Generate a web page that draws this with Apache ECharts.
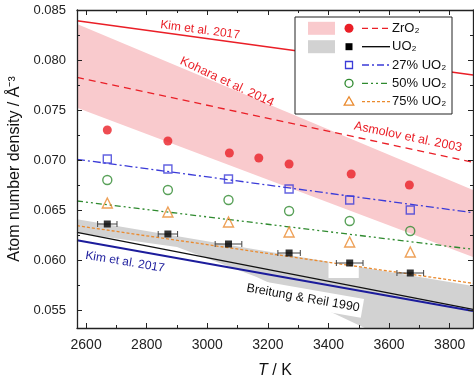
<!DOCTYPE html>
<html>
<head>
<meta charset="utf-8">
<script src="https://cdn.jsdelivr.net/npm/echarts@6/dist/echarts.min.js"></script>
<style>
  html, body { margin: 0; padding: 0; background: #fff; }
  #chart { width: 474px; height: 381px; }
</style>
</head>
<body>
<div id="chart"></div>
<script>
// measured points
const zrTemps = [2670, 2870, 3073, 3170, 3270, 3475, 3667]
const zrDensity = [0.0730, 0.0719, 0.0707, 0.0702, 0.0696, 0.0686, 0.0675]

const mixTemps = [2670, 2870, 3070, 3270, 3470, 3670]
const uo2Density = [0.0636, 0.0626, 0.0616, 0.0607, 0.0597, 0.0587]
const uo2TempErr = [32, 32, 44, 37, 44, 44]
const u27Density = [0.0701, 0.0691, 0.0681, 0.0671, 0.0660, 0.0650]
const u50Density = [0.0680, 0.0670, 0.0660, 0.0649, 0.0639, 0.0629]
const u75Density = [0.0657, 0.0648, 0.0638, 0.0628, 0.0618, 0.0608]

// fit / literature lines (values at both ends of the T range)
const fitTemps = [2570, 3877]
const kimZr = [0.08393, 0.0785]
const asmolovZr = [0.07827, 0.06977]
const uo2Fit = [0.06277, 0.05507]
const kimUo2 = [0.06197, 0.0549]
const u27Fit = [0.07007, 0.06473]
const u50Fit = [0.0659, 0.06107]
const u75Fit = [0.06343, 0.05767]

// Kohara et al. 2014 band
const koharaTemps = [2570, 3877]
const koharaHigh = [0.0836, 0.0670]
const koharaLow = [0.07523, 0.0603]

// Breitung & Reil 1990 band
const breitungHighT = [2570, 3400, 3400, 3500, 3500, 3877]
const breitungHigh = [0.06407, 0.05982, 0.0582, 0.0582, 0.05933, 0.0574]
const breitungLowT = [2570, 2900, 3163, 3520, 3877]
const breitungLow = [0.0627, 0.0613, 0.0583, 0.0532, 0.0532]

const xRange = [2570, 3877]
const yRange = [0.0532, 0.085]

const FONT = '"Liberation Sans", Arial, sans-serif'
const RED = '#ea1f27'
const BLUE = '#3b3bd8'
const GREEN = '#2f8a2f'
const ORANGE = '#ea8a2e'
const NAVY = '#1c1c9c'

const zip = (xs, ys) => xs.map((x, i) => [x, ys[i]])

function bandPoints (highT, high, lowT, low) {
  return zip(highT, high).concat(zip(lowT, low).reverse())
}

function bandSeries (points, color) {
  return {
    type: 'custom',
    z: 1,
    silent: true,
    data: points,
    renderItem: function (params, api) {
      if (params.dataIndex !== 0) return
      return {
        type: 'polygon',
        shape: { points: points.map(p => api.coord(p)) },
        style: { fill: color }
      }
    }
  }
}

function lineSeries (ys, color, type, width) {
  return {
    type: 'line',
    z: 3,
    silent: true,
    symbol: 'none',
    data: zip(fitTemps, ys),
    lineStyle: { color, type, width: width || 1.3 }
  }
}

function scatterSeries (xs, ys, symbol, size, color, filled) {
  return {
    type: 'scatter',
    z: 5,
    symbol,
    symbolSize: size,
    data: zip(xs, ys),
    itemStyle: filled
      ? { color }
      : { color: 'transparent', borderColor: color, borderWidth: 1.4 }
  }
}

function xAxisDef (position, step, tickLen, main) {
  return {
    type: 'value', position, min: xRange[0], max: xRange[1], z: 10,
    minInterval: step, maxInterval: step,
    axisLine: { show: main, onZero: false, lineStyle: { color: '#222', width: 1.3 } },
    axisTick: { inside: true, length: tickLen, lineStyle: { color: '#222', width: 1 } },
    axisLabel: { show: false },
    splitLine: { show: false }
  }
}

function yAxisDef (position, step, tickLen, main) {
  return {
    type: 'value', position, min: yRange[0], max: yRange[1], z: 10,
    minInterval: step, maxInterval: step,
    axisLine: { show: main, onZero: false, lineStyle: { color: '#222', width: 1.3 } },
    axisTick: { inside: true, length: tickLen, lineStyle: { color: '#222', width: 1 } },
    axisLabel: { show: false },
    splitLine: { show: false }
  }
}

function label (text, x, y, deg, color, size, extra) {
  return {
    type: 'text', x, y, z: 20,
    rotation: -deg * Math.PI / 180,
    style: Object.assign({
      text, fill: color, font: size + 'px ' + FONT,
      align: 'center', verticalAlign: 'middle'
    }, extra || {})
  }
}

function legendGraphics () {
  const x0 = 295, y0 = 17
  const rows = [28.3, 46.7, 65, 83.3, 101.7]
  const g = [{
    type: 'rect', z: 30, shape: { x: x0, y: y0, width: 157, height: 97 },
    style: { fill: '#fff', stroke: '#222', lineWidth: 1 }
  }, {
    type: 'rect', z: 31, shape: { x: 308, y: rows[0] - 6.5, width: 27, height: 13 },
    style: { fill: '#f9cacd' }
  }, {
    type: 'rect', z: 31, shape: { x: 308, y: rows[1] - 6.5, width: 27, height: 13 },
    style: { fill: '#d2d2d2' }
  }, {
    type: 'circle', z: 31, shape: { cx: 349, cy: rows[0], r: 4.5 }, style: { fill: RED }
  }, {
    type: 'rect', z: 31, shape: { x: 345.5, y: rows[1] - 3.5, width: 7, height: 7 }, style: { fill: '#000' }
  }, {
    type: 'rect', z: 31, shape: { x: 345.5, y: rows[2] - 3.5, width: 7, height: 7 },
    style: { fill: 'none', stroke: BLUE, lineWidth: 1.3 }
  }, {
    type: 'circle', z: 31, shape: { cx: 349, cy: rows[3], r: 4 },
    style: { fill: 'none', stroke: GREEN, lineWidth: 1.3 }
  }, {
    type: 'polygon', z: 31, shape: { points: [[349, rows[4] - 5], [353.8, rows[4] + 3.5], [344.2, rows[4] + 3.5]] },
    style: { fill: 'none', stroke: ORANGE, lineWidth: 1.3 }
  }]
  const lines = [
    [RED, [6, 4]], ['#000', null], [BLUE, [7, 3, 2, 3]], [GREEN, [6, 3, 2, 3, 2, 3]], [ORANGE, [3, 2]]
  ]
  const names = ['ZrO₂', 'UO₂', '27% UO₂', '50% UO₂', '75% UO₂']
  lines.forEach((l, i) => {
    g.push({
      type: 'line', z: 31, shape: { x1: 362, y1: rows[i], x2: 390, y2: rows[i] },
      style: { stroke: l[0], lineWidth: 1.3, lineDash: l[1] }
    })
    g.push({
      type: 'text', z: 31, x: 392, y: rows[i],
      style: { text: names[i], fill: '#111', font: '13px ' + FONT, align: 'left', verticalAlign: 'middle' }
    })
  })
  return g
}

const chart = echarts.init(document.getElementById('chart'))

const xAxes = [
  xAxisDef('bottom', 200, 5, true),
  xAxisDef('top', 200, 5, true),
  xAxisDef('bottom', 100, 3, false),
  xAxisDef('top', 100, 3, false)
]
Object.assign(xAxes[0], {
  name: '{i|T} / K',
  nameLocation: 'middle',
  nameGap: 35,
  nameTextStyle: {
    fontSize: 16, color: '#111', fontFamily: FONT,
    rich: { i: { fontStyle: 'italic', fontSize: 16, fontFamily: FONT, color: '#111' } }
  },
  axisLabel: {
    show: true, fontSize: 14, color: '#222', fontFamily: FONT, margin: 10,
    showMinLabel: false, showMaxLabel: false,
    formatter: v => String(v)
  }
})

const yAxes = [
  yAxisDef('left', 0.005, 5, true),
  yAxisDef('right', 0.005, 5, true),
  yAxisDef('left', 0.0025, 3, false),
  yAxisDef('right', 0.0025, 3, false)
]
Object.assign(yAxes[0], {
  name: 'Atom number density / Å⁻³',
  nameLocation: 'middle',
  nameGap: 40,
  nameTextStyle: { fontSize: 16, color: '#111', fontFamily: FONT },
  axisLabel: {
    show: true, fontSize: 13, color: '#222', fontFamily: FONT, margin: 11,
    showMinLabel: false,
    formatter: v => v.toFixed(3)
  }
})

const option = {
  animation: false,
  backgroundColor: '#fff',
  grid: { left: 77, right: 1, top: 10, bottom: 53, containLabel: false, outerBoundsMode: 'none' },
  xAxis: xAxes,
  yAxis: yAxes,
  graphic: [
    label('Kim et al. 2017', 200, 30, 7.5, RED, 12),
    label('Kohara et al. 2014', 227, 82, 25, RED, 12.5),
    label('Asmolov et al. 2003', 408, 137, 11.7, RED, 12.5),
    label('Kim et al. 2017', 125, 262, 9.5, NAVY, 12),
    Object.assign(label('Breitung & Reil 1990', 303, 298, 10, '#111', 12.5,
      { backgroundColor: '#fff', padding: [3, 3, 3, 3] }), { z: 2 }),
    ...legendGraphics()
  ],
  series: [
    bandSeries(bandPoints(koharaTemps, koharaHigh, koharaTemps, koharaLow), '#f9cacd'),
    bandSeries(bandPoints(breitungHighT, breitungHigh, breitungLowT, breitungLow), '#d2d2d2'),
    lineSeries(kimZr, RED, 'solid', 1.6),
    lineSeries(asmolovZr, RED, [7, 5], 1.3),
    lineSeries(uo2Fit, '#111', 'solid', 1.3),
    lineSeries(kimUo2, NAVY, 'solid', 2),
    lineSeries(u27Fit, BLUE, [8, 3, 2, 3], 1.3),
    lineSeries(u50Fit, GREEN, [6, 3, 2, 3, 2, 3], 1.3),
    lineSeries(u75Fit, ORANGE, [3, 2], 1.3),
    {
      type: 'custom',
      z: 4,
      silent: true,
      data: mixTemps.map((t, i) => [t, uo2Density[i], uo2TempErr[i]]),
      renderItem: function (params, api) {
        const a = api.coord([api.value(0) - api.value(2), api.value(1)])
        const b = api.coord([api.value(0) + api.value(2), api.value(1)])
        const st = { stroke: '#444', lineWidth: 1 }
        return {
          type: 'group',
          children: [
            { type: 'line', shape: { x1: a[0], y1: a[1], x2: b[0], y2: b[1] }, style: st },
            { type: 'line', shape: { x1: a[0], y1: a[1] - 3, x2: a[0], y2: a[1] + 3 }, style: st },
            { type: 'line', shape: { x1: b[0], y1: b[1] - 3, x2: b[0], y2: b[1] + 3 }, style: st }
          ]
        }
      }
    },
    scatterSeries(zrTemps, zrDensity, 'circle', 9, RED, true),
    scatterSeries(mixTemps, u27Density, 'rect', 8, BLUE, false),
    scatterSeries(mixTemps, u50Density, 'circle', 9, GREEN, false),
    scatterSeries(mixTemps, u75Density, 'triangle', 10, ORANGE, false),
    scatterSeries(mixTemps, uo2Density, 'rect', 7, '#000', true)
  ]
}

chart.setOption(option)
</script>
</body>
</html>
